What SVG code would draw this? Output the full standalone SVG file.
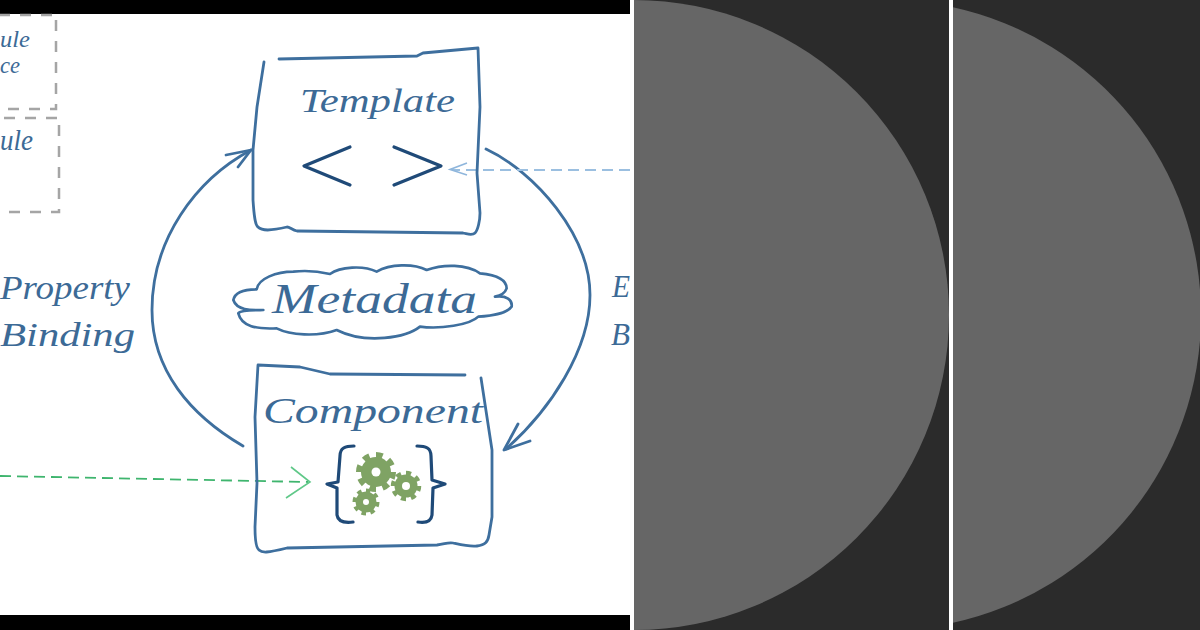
<svg xmlns="http://www.w3.org/2000/svg" width="1200" height="630" viewBox="0 0 1200 630">
<style>
.hand{font-family:"Liberation Serif",serif;font-style:italic;fill:#3c6a96}
.sk{fill:none;stroke:#3e6f9e;stroke-width:2.800;stroke-linecap:round;stroke-linejoin:round}
.dk{fill:none;stroke:#1f4a78;stroke-width:3.200;stroke-linecap:round;stroke-linejoin:round}
.gb{fill:none;stroke:#a5a5a5;stroke-width:2.500;stroke-dasharray:11 10}
.gear{fill:#7fa364}
.teeth{fill:none;stroke:#7fa364}
.hole{fill:#fff}
</style>
<rect width="1200" height="630" fill="#fff"/>
<g id="left-panel">
<rect x="0" y="0" width="630" height="14" fill="#000"/>
<rect x="0" y="615" width="630" height="15" fill="#000"/>
</g>
<g id="panel-one">
<rect x="634" y="0" width="315" height="630" fill="#2b2b2b"/>
<path d="M634,0A315,315 0 0 1 634,630Z" fill="#666"/>
</g>
<g id="panel-two">
<rect x="953" y="0" width="247" height="630" fill="#2b2b2b"/>
<path d="M953,7.200A315,315 0 0 1 953,622.800Z" fill="#666"/>
</g>
<g id="module-boxes">
<path class="gb" d="M52,15H0"/>
<path class="gb" d="M56,20V109H8"/>
<path class="gb" d="M57,118H3"/>
<path class="gb" d="M59,125V212H0"/>
<text class="hand" x="0" y="47" font-size="24" textLength="30" lengthAdjust="spacingAndGlyphs">ule</text>
<text class="hand" x="0" y="73" font-size="24" textLength="20" lengthAdjust="spacingAndGlyphs">ce</text>
<text class="hand" x="0" y="150" font-size="30" textLength="33" lengthAdjust="spacingAndGlyphs">ule</text>
</g>
<g id="connectors">
<path class="sk" d="M243,446C190,415 152,370 152,310C152,240 195,180 251,150"/>
<path class="sk" d="M226,155L251,150L238,167"/>
<path class="sk" d="M486,149C535,172 590,235 590,295C590,350 550,410 506,449"/>
<path class="sk" d="M518,424L504,450L530,441"/>
<path fill="none" stroke="#9bbfe0" stroke-width="2" stroke-dasharray="11 6" d="M630,170H452"/>
<path fill="none" stroke="#8fb6dc" stroke-width="1.600" d="M467,163L450,169.500L467,175"/>
<path fill="none" stroke="#3fb56e" stroke-width="1.800" stroke-dasharray="11 6" d="M0,476L308,482"/>
<path fill="none" stroke="#5fc888" stroke-width="1.600" d="M291,467L310,482L286,498"/>
</g>
<g id="template">
<path class="sk" d="M264,62L257,107L253,150L253,200C254,215 255,225 258,227C262,231 270,231 287,227C290,227 292,230 297,231L463,233C468,234 472,236 475,233C478,230 480,220 480,213L477,173L480,107L478,48L423,53L417,56L279,59"/>
<text class="hand" x="300" y="112" font-size="33" textLength="155" lengthAdjust="spacingAndGlyphs">Template</text>
<path class="dk" d="M350,147L304,166L350,185M394,147L441,166L394,185"/>
</g>
<g id="metadata">
<path class="sk" transform="translate(220,250) scale(.3333)" style="stroke-width:8" d="M130,180C90,182 50,180 40,150C45,125 80,118 110,118C115,85 170,65 220,65C260,60 300,65 330,72C360,50 430,45 470,65C510,42 580,40 620,60C670,42 740,42 780,70C830,75 860,90 860,115C855,130 840,137 825,140C860,135 878,150 875,170C860,190 810,198 775,200C750,225 660,238 600,230C560,262 440,285 350,240C290,262 210,255 170,235C110,238 65,230 55,190C60,182 95,180 130,180"/>
<text class="hand" x="272" y="313" font-size="42" textLength="205" lengthAdjust="spacingAndGlyphs">Metadata</text>
</g>
<g id="component">
<path class="sk" d="M465,375L330,374L300,367L258,365L255,417L257,483L255,527C255,540 256,548 259,550C262,553 267,553 287,548L437,545C445,544 448,542 453,543C462,545 470,547 477,546C485,545 488,542 489,535L492,517V450L481,378"/>
<text class="hand" x="263" y="423" font-size="36" textLength="220" lengthAdjust="spacingAndGlyphs">Component</text>
<path class="dk" d="M354,446C345,446 340,448 340,456L338,482L327,484L337,488L337,515C338,522 345,523 353,522"/>
<path class="dk" d="M417,446C426,446 431,448 431,456L432,480L445,484L433,488L432,515C431,522 425,523 418,522"/>
<g id="gears">
<circle class="gear" cx="376" cy="472" r="15"/>
<circle class="teeth" cx="376" cy="472" r="17" stroke-width="6" pathLength="16" stroke-dasharray="1 1"/>
<circle class="hole" cx="376" cy="472" r="4.500"/>
<circle class="gear" cx="406" cy="486" r="11.500"/>
<circle class="teeth" cx="406" cy="486" r="13" stroke-width="4.500" pathLength="16" stroke-dasharray="1 1"/>
<circle class="hole" cx="406" cy="486" r="4"/>
<circle class="gear" cx="366" cy="502" r="10.500"/>
<circle class="teeth" cx="366" cy="502" r="11.500" stroke-width="4" pathLength="16" stroke-dasharray="1 1"/>
<circle class="hole" cx="366" cy="502" r="3"/>
</g>
</g>
<g id="property-binding">
<text class="hand" x="0" y="299" font-size="34" textLength="130" lengthAdjust="spacingAndGlyphs">Property</text>
<text class="hand" x="0" y="346" font-size="34" textLength="135" lengthAdjust="spacingAndGlyphs">Binding</text>
</g>
<g id="event-binding">
<text class="hand" x="612" y="297" font-size="32" textLength="18" lengthAdjust="spacingAndGlyphs">E</text>
<text class="hand" x="611" y="345" font-size="32" textLength="19" lengthAdjust="spacingAndGlyphs">B</text>
</g>
</svg>
